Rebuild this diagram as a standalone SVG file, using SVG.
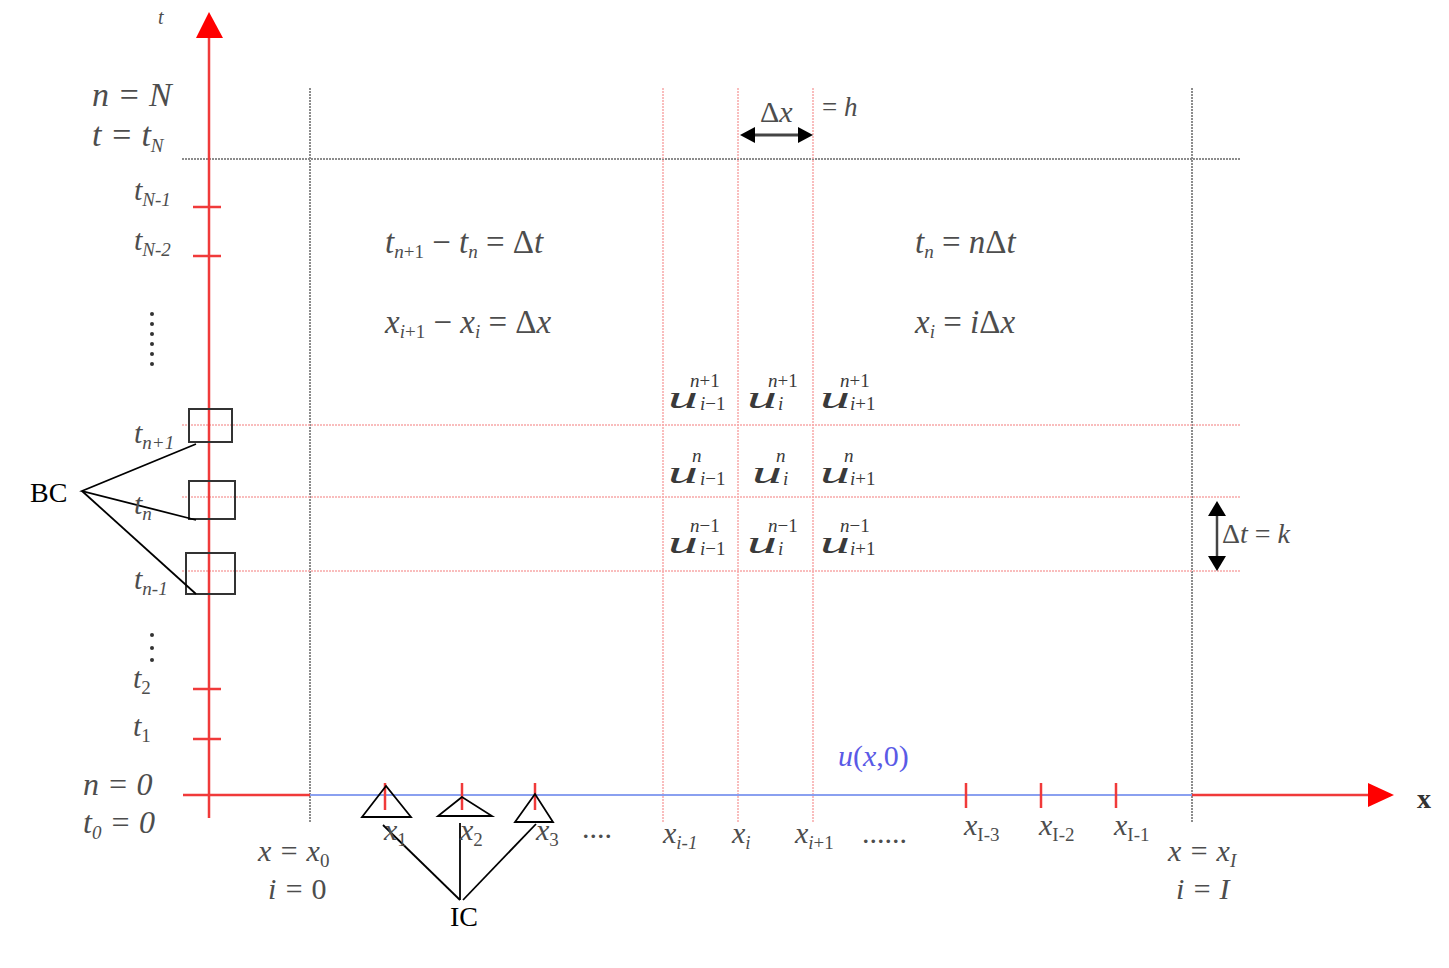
<svg xmlns="http://www.w3.org/2000/svg" width="1449" height="968" viewBox="0 0 1449 968">
<style>
.t{font-family:"Liberation Serif",serif;font-style:italic;fill:#4d4d4d;font-size:30px}
.s{font-size:19px}
.n{font-style:normal}
.blk{font-family:"Liberation Serif",serif;fill:#000;font-size:28px}
.gd{stroke:#8c8c8c;stroke-width:2;stroke-dasharray:2 1;fill:none}
.rd{stroke:#f7a8a8;stroke-width:1.5;stroke-dasharray:2 1;fill:none}
.ax{stroke:#f03a3a;stroke-width:2.5;fill:none}
.tk{stroke:#f03a3a;stroke-width:2.5}
.bk{stroke:#000;stroke-width:1.8;fill:none}
.box{stroke:#333;stroke-width:2;fill:none}
.st{font-family:"Liberation Serif",serif;font-style:italic;fill:#3a3a3a;font-size:31px}
.sp{font-family:"Liberation Serif",serif;font-style:italic;fill:#3a3a3a;font-size:19px}
</style>
<rect width="1449" height="968" fill="#fff"/>
<g id="grid">
<line class="gd" x1="310" y1="88" x2="310" y2="822"/>
<line class="gd" x1="1192" y1="88" x2="1192" y2="822"/>
<line class="gd" x1="182" y1="159" x2="1240" y2="159"/>
<line class="rd" x1="663" y1="88" x2="663" y2="822"/>
<line class="rd" x1="738" y1="88" x2="738" y2="822"/>
<line class="rd" x1="813" y1="88" x2="813" y2="822"/>
<line class="rd" x1="182" y1="425" x2="1240" y2="425"/>
<line class="rd" x1="182" y1="497" x2="1240" y2="497"/>
<line class="rd" x1="182" y1="571" x2="1240" y2="571"/>
</g>
<g id="axes">
<line class="ax" x1="209" y1="36" x2="209" y2="818"/>
<polygon points="209,12 196,38 223,38" fill="#f00"/>
<line class="ax" x1="183" y1="795" x2="310" y2="795"/>
<line x1="310" y1="795" x2="1192" y2="795" stroke="#8aa0f0" stroke-width="2"/>
<line class="ax" x1="1192" y1="795" x2="1370" y2="795"/>
<polygon points="1394,795 1368,783 1368,807" fill="#f00"/>
<line class="tk" x1="193" y1="207" x2="221" y2="207"/>
<line class="tk" x1="193" y1="256" x2="221" y2="256"/>
<line class="tk" x1="193" y1="689" x2="221" y2="689"/>
<line class="tk" x1="193" y1="739" x2="221" y2="739"/>
<line class="tk" x1="385" y1="783" x2="385" y2="810"/>
<line class="tk" x1="462" y1="783" x2="462" y2="810"/>
<line class="tk" x1="535" y1="783" x2="535" y2="810"/>
<line class="tk" x1="966" y1="783" x2="966" y2="808"/>
<line class="tk" x1="1041" y1="783" x2="1041" y2="808"/>
<line class="tk" x1="1116" y1="783" x2="1116" y2="808"/>
</g>
<g id="bc">
<rect class="box" x="189" y="409" width="43" height="33"/>
<rect class="box" x="189" y="481" width="46" height="38"/>
<rect class="box" x="186" y="553" width="49" height="41"/>
<text class="blk" x="30" y="502">BC</text>
</g>
<g id="ic">
<polygon class="bk" points="386,786 362,817 411,817"/>
<polygon class="bk" points="462,797 438,816 492,816"/>
<polygon class="bk" points="535,794 515,822 553,822"/>
<text class="blk" x="450" y="926">IC</text>
</g>
<g id="connectors">
<polyline class="bk" points="196,444 82,491 196,520"/>
<line class="bk" x1="82" y1="491" x2="196" y2="594"/>
<line class="bk" x1="383" y1="825" x2="460" y2="900"/>
<line class="bk" x1="460" y1="823" x2="460" y2="900"/>
<line class="bk" x1="536" y1="824" x2="463" y2="900"/>
<line x1="752" y1="135" x2="800" y2="135" stroke="#444" stroke-width="3"/>
<polygon points="740,135 755,127 755,143" fill="#000"/>
<polygon points="813,135 798,127 798,143" fill="#000"/>
<line x1="1217" y1="513" x2="1217" y2="559" stroke="#444" stroke-width="2.5"/>
<polygon points="1217,501 1208,516 1226,516" fill="#000"/>
<polygon points="1217,571 1208,556 1226,556" fill="#000"/>
</g>
<g id="tlabels">
<text class="t" x="158" y="24" style="font-size:20px">t</text>
<text class="t" x="92" y="106" style="font-size:34px">n = N</text>
<text class="t" x="92" y="146" style="font-size:34px">t = t<tspan class="s" dy="6">N</tspan></text>
<text class="t" x="134" y="200">t<tspan class="s" dy="6">N-1</tspan></text>
<text class="t" x="134" y="250">t<tspan class="s" dy="6">N-2</tspan></text>
<g fill="#333">
<circle cx="152" cy="314" r="2"/><circle cx="152" cy="324" r="2"/><circle cx="152" cy="334" r="2"/>
<circle cx="152" cy="344" r="2"/><circle cx="152" cy="354" r="2"/><circle cx="152" cy="364" r="2"/>
<circle cx="152" cy="635" r="2"/><circle cx="152" cy="648" r="2"/><circle cx="152" cy="660" r="2"/>
</g>
<text class="t" x="134" y="443">t<tspan class="s" dy="6">n+1</tspan></text>
<text class="t" x="134" y="514">t<tspan class="s" dy="6">n</tspan></text>
<text class="t" x="134" y="589">t<tspan class="s" dy="6">n-1</tspan></text>
<text class="t" x="133" y="688">t<tspan class="s n" dy="6">2</tspan></text>
<text class="t" x="133" y="736">t<tspan class="s n" dy="6">1</tspan></text>
<text class="t" x="83" y="795" style="font-size:32px">n = 0</text>
<text class="t" x="83" y="833" style="font-size:32px">t<tspan class="s" dy="6">0</tspan><tspan dy="-6">  = 0</tspan></text>
</g>
<g id="xlabels">
<text class="t" x="258" y="861">x = x<tspan class="s n" dy="6">0</tspan></text>
<text class="t" x="268" y="899">i = <tspan class="n">0</tspan></text>
<text class="t" x="384" y="840">x<tspan class="s n" dy="6">1</tspan></text>
<text class="t" x="460" y="840">x<tspan class="s n" dy="6">2</tspan></text>
<text class="t" x="536" y="840">x<tspan class="s n" dy="6">3</tspan></text>
<text class="t" x="582" y="838" style="font-style:normal">....</text>
<text class="t" x="663" y="843">x<tspan class="s" dy="6">i-1</tspan></text>
<text class="t" x="732" y="843">x<tspan class="s" dy="6">i</tspan></text>
<text class="t" x="795" y="843">x<tspan class="s" dy="6">i</tspan><tspan class="s n">+1</tspan></text>
<text class="t" x="862" y="843" style="font-style:normal">......</text>
<text class="t" x="964" y="835">x<tspan class="s n" dy="6">I-3</tspan></text>
<text class="t" x="1039" y="835">x<tspan class="s n" dy="6">I-2</tspan></text>
<text class="t" x="1114" y="835">x<tspan class="s n" dy="6">I-1</tspan></text>
<text class="t" x="1168" y="861">x = x<tspan class="s" dy="6">I</tspan></text>
<text class="t" x="1176" y="899">i = I</text>
<text class="t" x="838" y="766" style="fill:#5a5ae6">u<tspan class="n">(</tspan>x<tspan class="n">,0)</tspan></text>
<text x="1417" y="808" style="font-family:'Liberation Serif',serif;font-weight:bold;font-size:28px;fill:#333">x</text>
</g>
<g id="formulas">
<text class="t" x="760" y="122"><tspan class="n">Δ</tspan>x</text>
<text class="t" x="822" y="116" style="font-size:27px"><tspan class="n">=</tspan> h</text>
<text class="t" x="1222" y="543" style="font-size:28px"><tspan class="n">Δ</tspan>t<tspan class="n"> = </tspan>k</text>
<text class="t" x="385" y="253" style="font-size:33px">t<tspan class="s" dy="5">n</tspan><tspan class="s n">+1</tspan><tspan dy="-5" class="n"> − </tspan>t<tspan class="s" dy="5">n</tspan><tspan dy="-5" class="n"> = Δ</tspan>t</text>
<text class="t" x="385" y="333" style="font-size:33px">x<tspan class="s" dy="5">i</tspan><tspan class="s n">+1</tspan><tspan dy="-5" class="n"> − </tspan>x<tspan class="s" dy="5">i</tspan><tspan dy="-5" class="n"> = Δ</tspan>x</text>
<text class="t" x="915" y="253" style="font-size:33px">t<tspan class="s" dy="5">n</tspan><tspan dy="-5" class="n"> = </tspan>n<tspan class="n">Δ</tspan>t</text>
<text class="t" x="915" y="333" style="font-size:33px">x<tspan class="s" dy="5">i</tspan><tspan dy="-5" class="n"> = </tspan>i<tspan class="n">Δ</tspan>x</text>
</g>
<g id="stencil">
<text class="st" x="668" y="408" textLength="30" lengthAdjust="spacingAndGlyphs">u</text><text class="sp" x="690" y="387">n<tspan class="n">+1</tspan></text><text class="sp" x="700" y="410">i<tspan class="n">−1</tspan></text>
<text class="st" x="747" y="408" textLength="30" lengthAdjust="spacingAndGlyphs">u</text><text class="sp" x="768" y="387">n<tspan class="n">+1</tspan></text><text class="sp" x="778" y="410">i</text>
<text class="st" x="820" y="408" textLength="30" lengthAdjust="spacingAndGlyphs">u</text><text class="sp" x="840" y="387">n<tspan class="n">+1</tspan></text><text class="sp" x="850" y="410">i<tspan class="n">+1</tspan></text>
<text class="st" x="668" y="483" textLength="30" lengthAdjust="spacingAndGlyphs">u</text><text class="sp" x="692" y="462">n</text><text class="sp" x="700" y="485">i<tspan class="n">−1</tspan></text>
<text class="st" x="752" y="483" textLength="30" lengthAdjust="spacingAndGlyphs">u</text><text class="sp" x="776" y="462">n</text><text class="sp" x="783" y="485">i</text>
<text class="st" x="820" y="483" textLength="30" lengthAdjust="spacingAndGlyphs">u</text><text class="sp" x="844" y="462">n</text><text class="sp" x="850" y="485">i<tspan class="n">+1</tspan></text>
<text class="st" x="668" y="553" textLength="30" lengthAdjust="spacingAndGlyphs">u</text><text class="sp" x="690" y="532">n<tspan class="n">−1</tspan></text><text class="sp" x="700" y="555">i<tspan class="n">−1</tspan></text>
<text class="st" x="747" y="553" textLength="30" lengthAdjust="spacingAndGlyphs">u</text><text class="sp" x="768" y="532">n<tspan class="n">−1</tspan></text><text class="sp" x="778" y="555">i</text>
<text class="st" x="820" y="553" textLength="30" lengthAdjust="spacingAndGlyphs">u</text><text class="sp" x="840" y="532">n<tspan class="n">−1</tspan></text><text class="sp" x="850" y="555">i<tspan class="n">+1</tspan></text>
</g>
</svg>
